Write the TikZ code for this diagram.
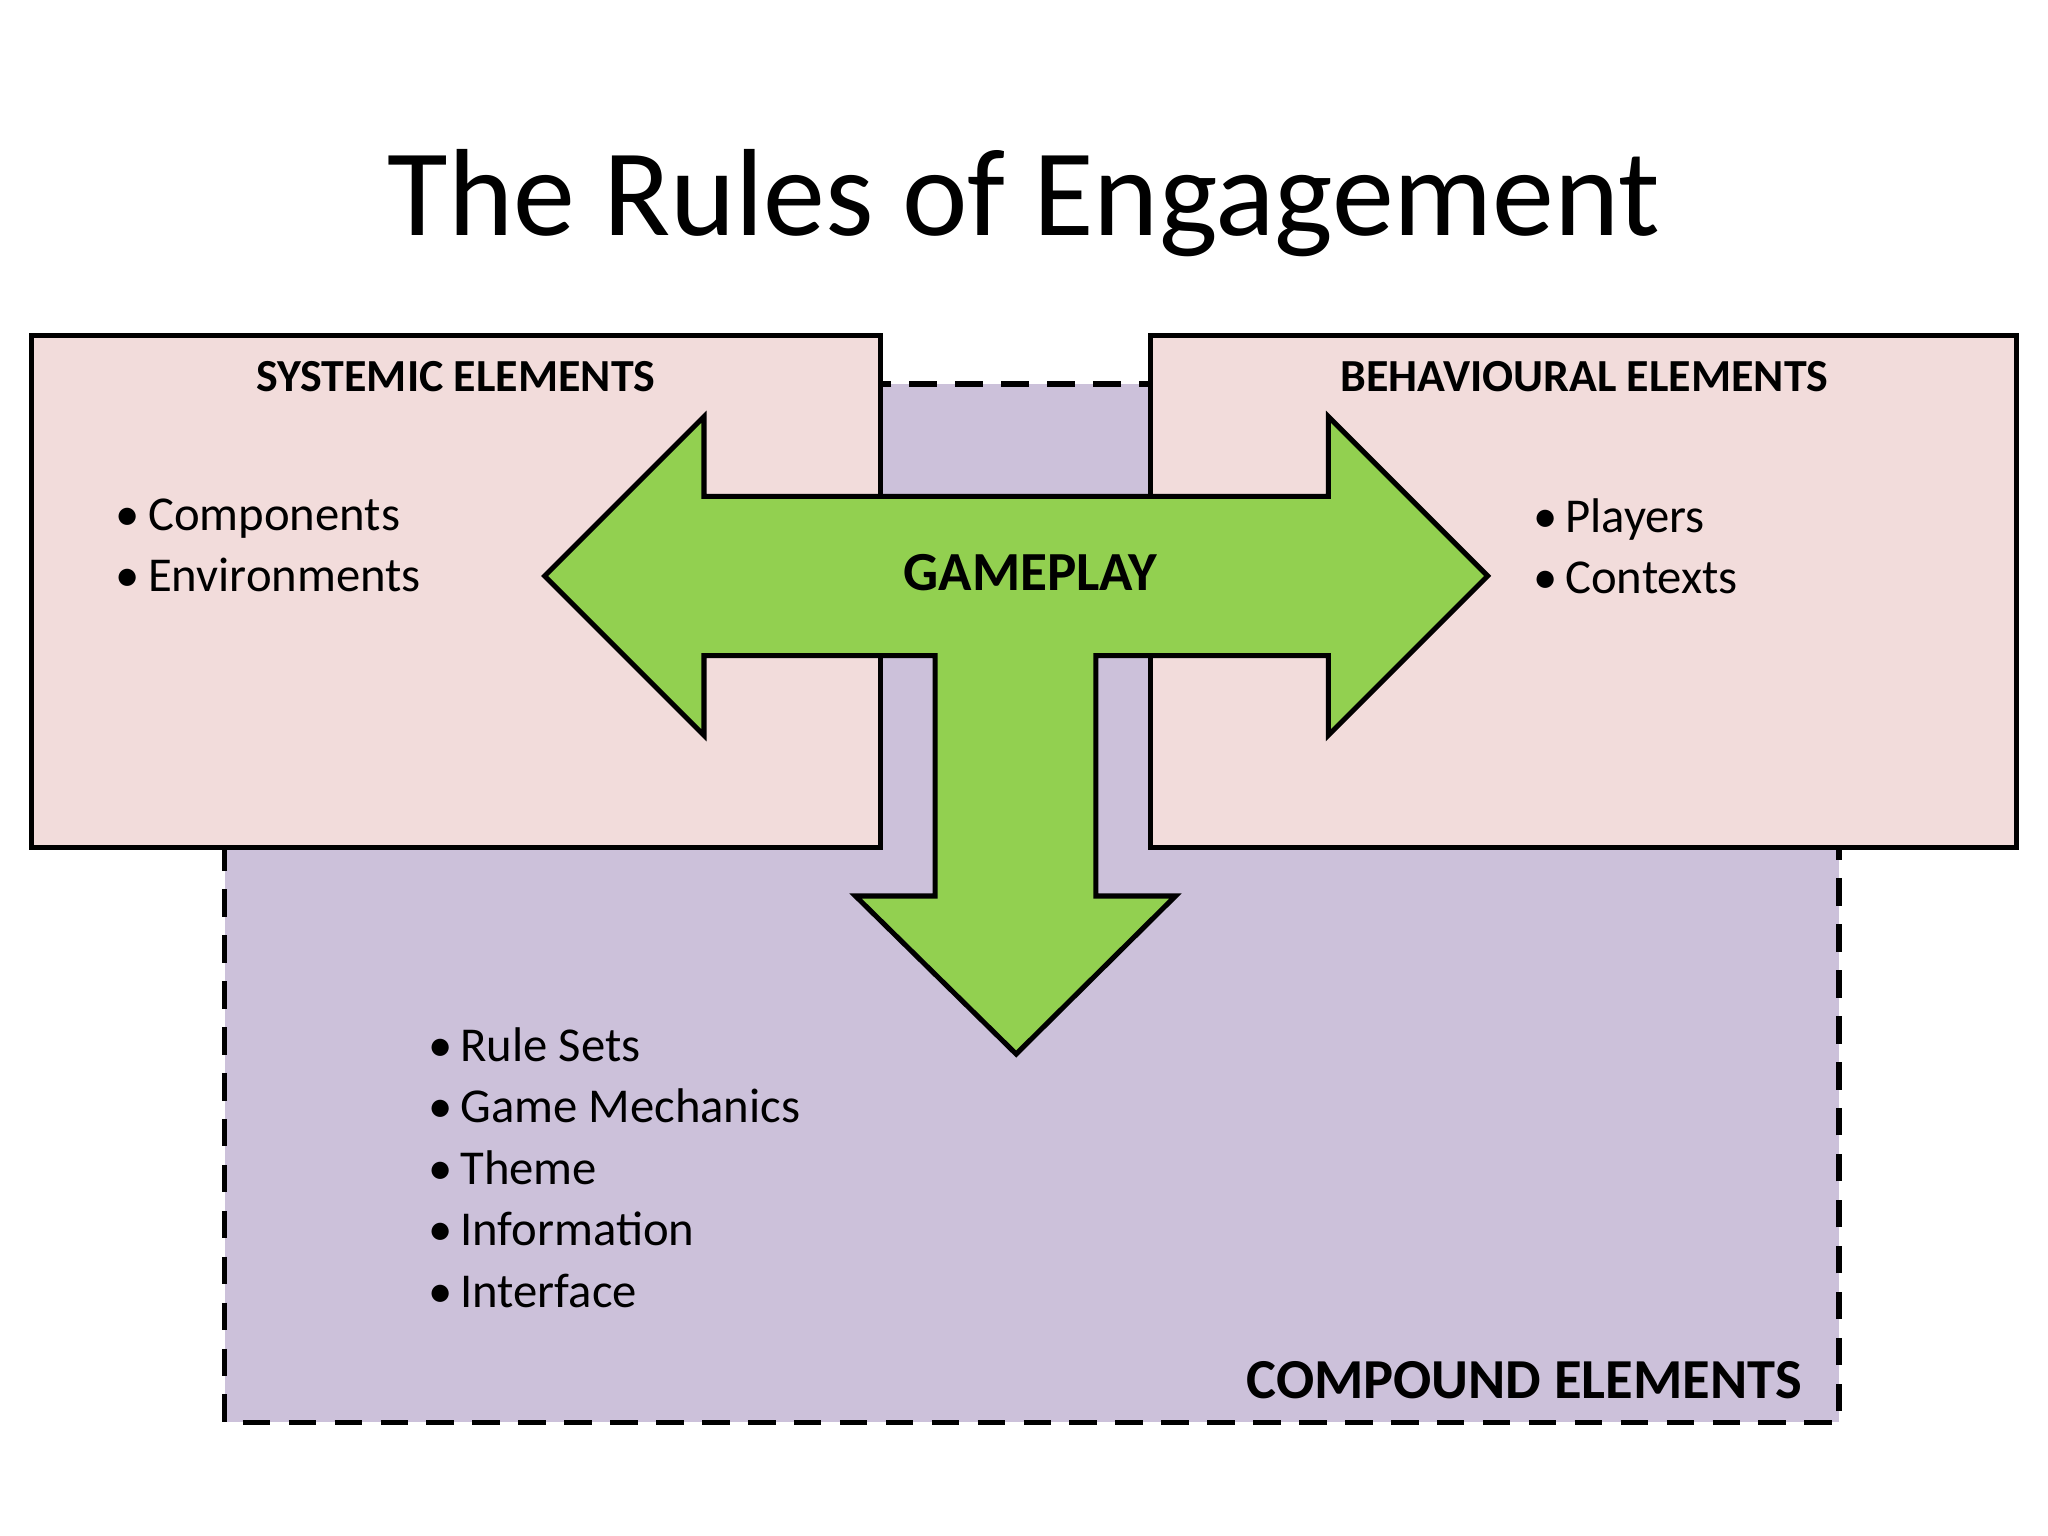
\documentclass[tikz,border=0pt]{standalone}
\usepackage{fontspec}
\setmainfont{Carlito}
\begin{document}
\begin{tikzpicture}[x=0.01cm,y=-0.01cm,
  box/.style={draw=black,line width=1.1pt,fill=pinkc},
  hdr/.style={font=\fontsize{10}{12}\selectfont\bfseries,anchor=base},
  lst/.style={font=\fontsize{10.6}{13.4}\selectfont,anchor=north west,align=left,inner sep=0pt}]
\definecolor{pinkc}{HTML}{F2DCDB}
\definecolor{purc}{HTML}{CCC1DA}
\definecolor{grn}{HTML}{92D050}
\useasboundingbox (0,0) rectangle (1568,1176);
\node[font=\fontsize{27}{32}\selectfont,anchor=base] (title) at (784,180) {The Rules of Engagement};
\draw[fill=purc,dashed,line width=1.1pt,dash pattern=on 6pt off 4pt] (172,294) rectangle (1408,1089);
\draw[box] (24,257) rectangle (674,649);
\draw[box] (881,257) rectangle (1544,649);
\node[hdr] (sys) at (349,300) {SYSTEMIC ELEMENTS};
\node[hdr] (beh) at (1213,300) {BEHAVIOURAL ELEMENTS};
\draw[fill=grn,line width=1.1pt,line join=miter] (417,441) -- (539,319) -- (539,380) -- (1017,380) -- (1017,319) -- (1139,441) -- (1017,563) -- (1017,502) -- (839,502) -- (839,686) -- (900,686) -- (778,807) -- (655,686) -- (716,686) -- (716,502) -- (539,502) -- (539,563) -- cycle;
\node[font=\fontsize{12}{14}\selectfont\bfseries,anchor=base] (gp) at (789,452) {GAMEPLAY};
\node[lst] (l1) at (88,381) {•\,Components\\•\,Environments};
\node[lst] (l2) at (1173,381) {•\,Players\\•\,Contexts};
\node[lst] (l3) at (327,786) {•\,Rule Sets\\•\,Game Mechanics\\•\,Theme\\•\,Information\\•\,Interface};
\node[font=\fontsize{12.3}{14}\selectfont\bfseries,anchor=base east] (cmp) at (1392,1071) {COMPOUND ELEMENTS};
\end{tikzpicture}
\end{document}
